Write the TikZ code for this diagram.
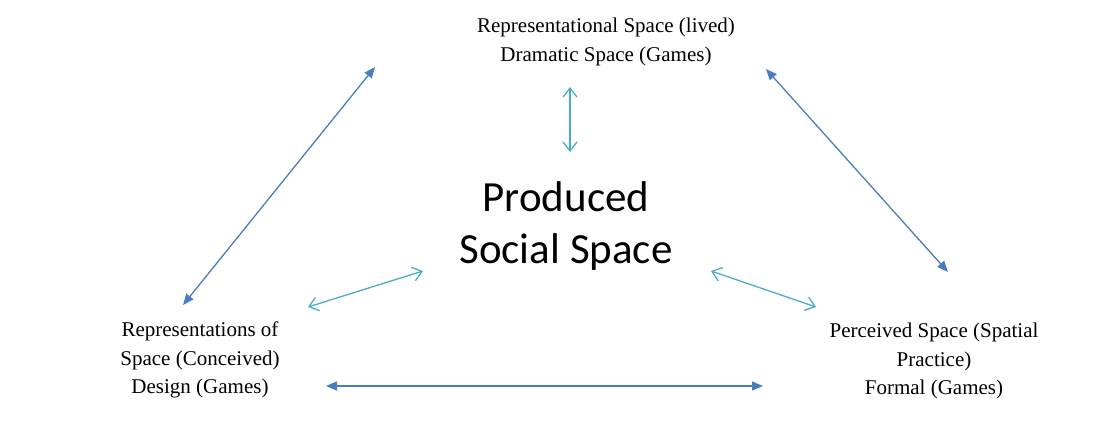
\documentclass[tikz,border=0pt]{standalone}
\usepackage{fontspec}
\setmainfont{Liberation Serif}
\newfontfamily\calfont{Carlito}
\usetikzlibrary{arrows.meta}
\definecolor{outerb}{HTML}{4A7EBB}
\definecolor{innerb}{HTML}{4BACC6}
\begin{document}
\begin{tikzpicture}[x=1pt,y=-1pt,
  lbl/.style={align=center,font=\fontsize{21}{28.5}\selectfont,inner sep=0pt},
  outer/.style={draw=outerb,line width=1.3pt,{Triangle[length=11pt,width=9pt]}-{Triangle[length=11pt,width=9pt]}},
  inner/.style={draw=innerb,line width=1.3pt,{Straight Barb[length=9pt,width=14pt]}-{Straight Barb[length=9pt,width=14pt]}}]
\useasboundingbox (0,0) rectangle (1105,427);
\node[lbl] (top) at (606,42) {Representational Space (lived)\\Dramatic Space (Games)};
\node[lbl] (left) at (200,360) {Representations of\\Space (Conceived)\\Design (Games)};
\node[lbl] (right) at (934,361) {Perceived Space (Spatial\\Practice)\\Formal (Games)};
\node[align=center,inner sep=0pt,font=\calfont\fontsize{43}{52}\selectfont] (mid) at (566,226) {Produced\\Social Space};
\coordinate (a1) at (375,67); \coordinate (a2) at (183,305);
\coordinate (b1) at (766,69); \coordinate (b2) at (948,272);
\coordinate (c1) at (326,386); \coordinate (c2) at (763,386);
\coordinate (d1) at (570,87); \coordinate (d2) at (570,152);
\coordinate (e1) at (308,307); \coordinate (e2) at (423,271);
\coordinate (f1) at (711,271); \coordinate (f2) at (816,307);
\draw[outer] (a1) -- (a2);
\draw[outer] (b1) -- (b2);
\draw[outer] (c1) -- (c2);
\draw[inner] (d1) -- (d2);
\draw[inner] (e1) -- (e2);
\draw[inner] (f1) -- (f2);
\end{tikzpicture}
\end{document}
